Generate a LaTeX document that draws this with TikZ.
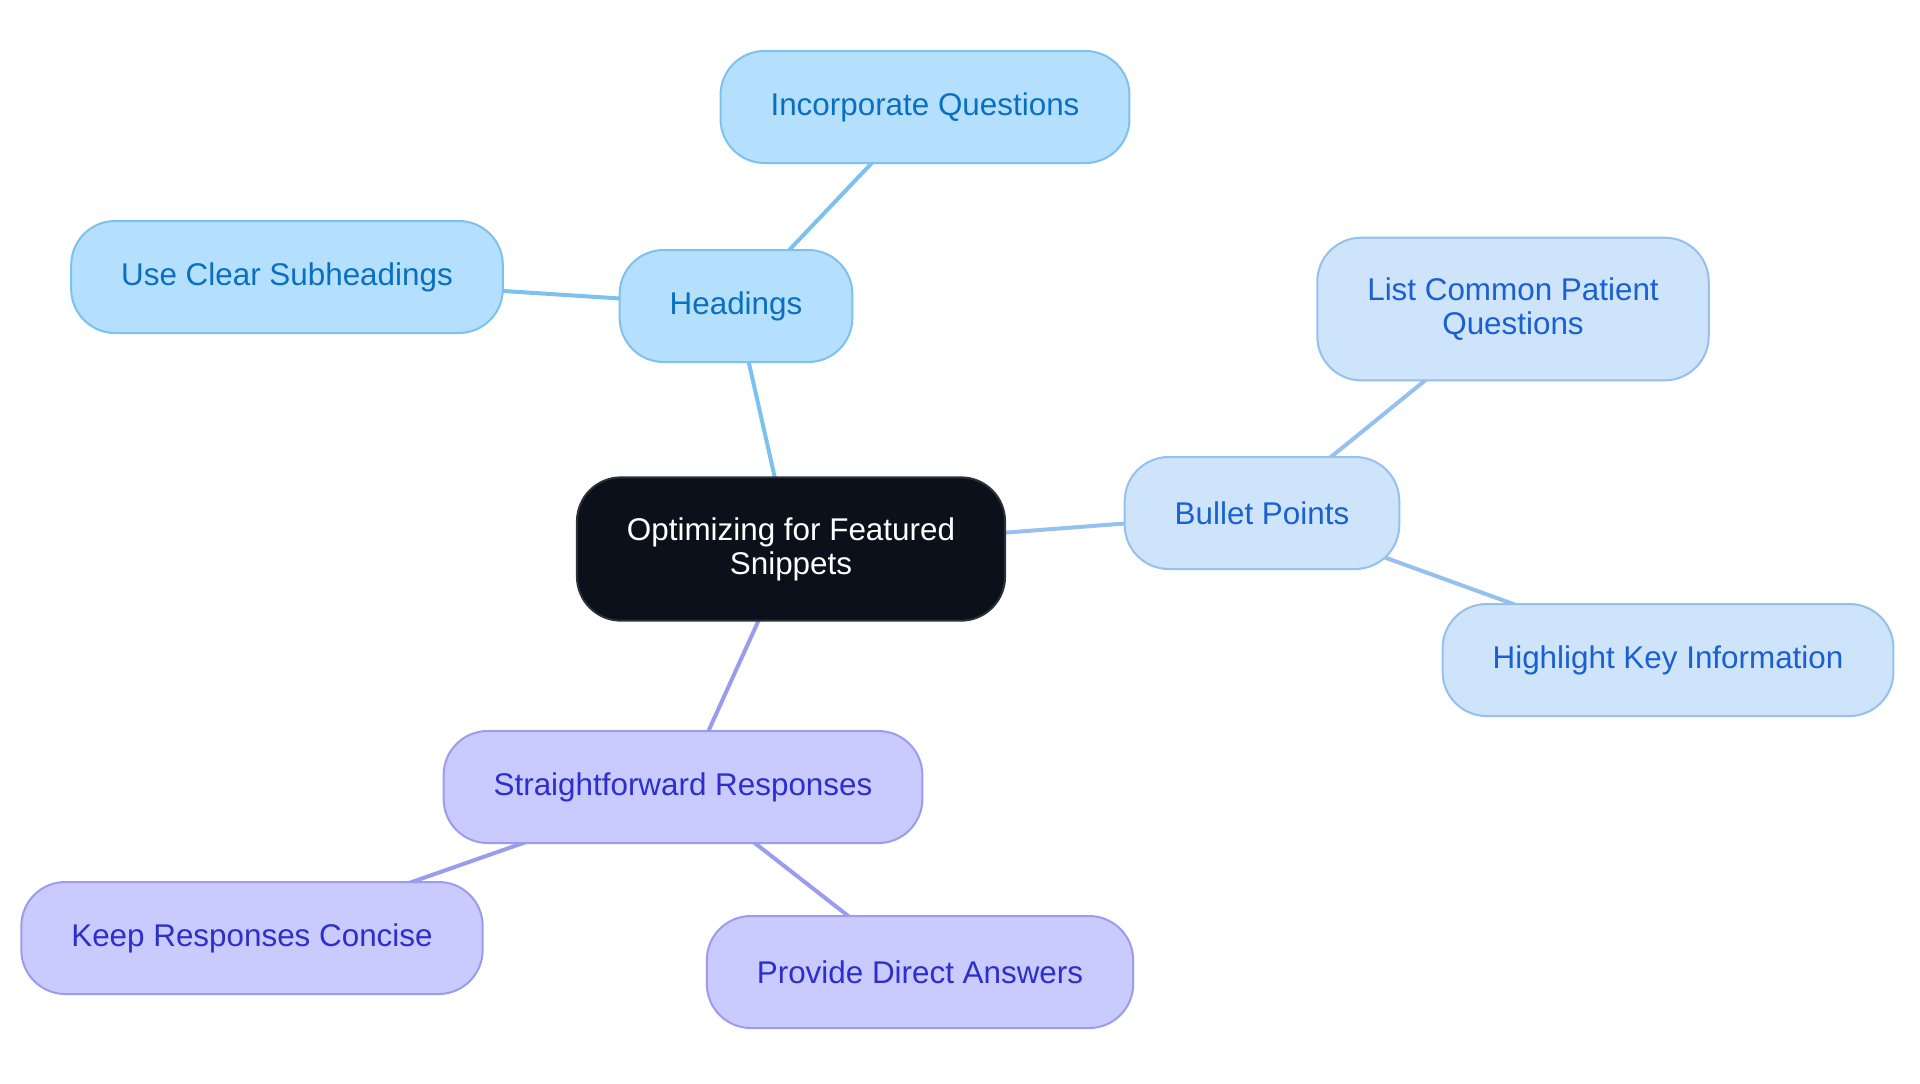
\documentclass[tikz,border=0pt]{standalone}
\usepackage{fontspec}
\setmainfont{Liberation Sans}
\usetikzlibrary{backgrounds}
\definecolor{rootfill}{HTML}{0B111A}
\definecolor{rootdraw}{HTML}{2C3038}
\definecolor{headfill}{HTML}{B4E0FE}
\definecolor{headdraw}{HTML}{7DC1EE}
\definecolor{headtext}{HTML}{0A6FC0}
\definecolor{bulfill}{HTML}{CDE4FB}
\definecolor{buldraw}{HTML}{96C0EE}
\definecolor{bultext}{HTML}{1A60D0}
\definecolor{respfill}{HTML}{C9CAFD}
\definecolor{respdraw}{HTML}{9C9CEE}
\definecolor{resptext}{HTML}{2E2ECC}

\begin{document}
\begin{tikzpicture}[x=0.5pt,y=-0.5pt,
  box/.style={rectangle, rounded corners=22pt, line width=1pt, inner xsep=25pt, inner ysep=20pt,
    minimum height=56pt, align=center, font=\fontsize{15.7}{17}\selectfont},
  rootbox/.style={box, fill=rootfill, draw=rootdraw, text=white},
  headbox/.style={box, fill=headfill, draw=headdraw, text=headtext},
  bulbox/.style={box, fill=bulfill, draw=buldraw, text=bultext},
  respbox/.style={box, fill=respfill, draw=respdraw, text=resptext},
  headedge/.style={draw=headdraw, line width=2pt},
  buledge/.style={draw=buldraw, line width=2pt},
  respedge/.style={draw=respdraw, line width=2pt}]

\useasboundingbox (0,0) rectangle (1920,1083);

\node[rootbox] (root) at (791,549) {Optimizing for Featured\\Snippets};

\node[headbox] (head) at (736,306) {Headings};
\node[headbox] (incq) at (925,107) {Incorporate Questions};
\node[headbox] (subh) at (287,277) {Use Clear Subheadings};

\node[bulbox] (bull) at (1262,513) {Bullet Points};
\node[bulbox] (list) at (1513,309) {List Common Patient\\Questions};
\node[bulbox] (high) at (1668,660) {Highlight Key Information};

\node[respbox] (resp) at (683,787) {Straightforward Responses};
\node[respbox] (keep) at (252,938) {Keep Responses Concise};
\node[respbox] (prov) at (920,972) {Provide Direct Answers};

\begin{scope}[on background layer]
\fill[white] (0,0) rectangle (1920,1083);

\draw [headedge] (root.center) -- (head.center);
\draw [headedge] (head.center) -- (incq.center);
\draw [headedge] (head.center) -- (subh.center);

\draw [buledge] (root.center) -- (bull.center);
\draw [buledge] (bull.center) -- (list.center);
\draw [buledge] (bull.center) -- (high.center);

\draw [respedge] (root.center) -- (resp.center);
\draw [respedge] (resp.center) -- (keep.center);
\draw [respedge] (resp.center) -- (prov.center);
\end{scope}

\end{tikzpicture}
\end{document}
